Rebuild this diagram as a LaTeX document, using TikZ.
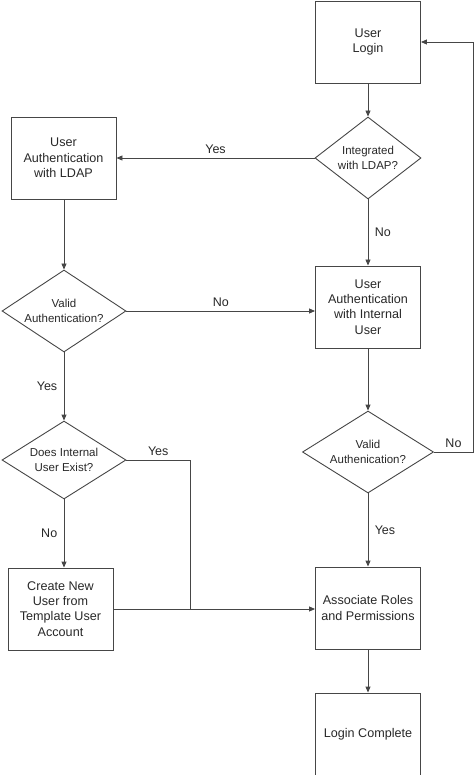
\documentclass[tikz,border=0pt]{standalone}
\usepackage{fontspec}
\setmainfont{Liberation Sans}
\usetikzlibrary{shapes.geometric,arrows.meta}
\definecolor{linegray}{RGB}{70,70,70}
\definecolor{textgray}{RGB}{40,40,40}

\begin{document}
\begin{tikzpicture}[x=1pt,y=-1pt,
    procbox/.style={draw=linegray, line width=0.9pt, minimum width=105pt,
      minimum height=82pt, inner sep=0pt, align=center, text=textgray,
      font=\fontsize{12.6}{15.3}\selectfont},
    decision/.style={draw=linegray, line width=0.9pt, diamond, inner sep=0pt,
      minimum width=#1, minimum height=82pt},
    decision/.default=124pt,
    dtext/.style={align=center, text=textgray, font=\fontsize{11.5}{14.5}\selectfont},
    flow/.style={draw=linegray, line width=0.9pt, -{Triangle[length=6pt,width=5pt]}},
    plainline/.style={draw=linegray, line width=0.9pt},
    answer/.style={text=textgray, font=\fontsize{12.5}{15}\selectfont}]

    % Fix the page to the size of the reference
    \useasboundingbox (0,0) rectangle (474,775);

    % Process boxes
    \node[procbox] (login)    at (368,42)    {User\\Login};
    \node[procbox] (ldapauth) at (63.5,158)  {User\\Authentication\\with LDAP};
    \node[procbox] (intauth)  at (368,307)   {User\\Authentication\\with Internal\\User};
    \node[procbox] (create)   at (60.5,609)  {Create New\\User from\\Template User\\Account};
    \node[procbox] (assoc)    at (368,608)   {Associate Roles\\and Permissions};
    \node[procbox] (done)     at (368,734)   {Login Complete};

    % Decisions (text put in the middle as a label)
    \node[decision=106pt, label={[dtext]center:Integrated\\with LDAP?}] (ldapq) at (368,158) {};
    \node[decision, label={[dtext]center:Valid\\Authentication?}] (validldap) at (64,311) {};
    \node[decision, minimum height=78pt, label={[dtext]center:Does Internal\\User Exist?}] (existq) at (64,460) {};
    \node[decision=131pt, label={[dtext]center:Valid\\Authenication?}] (validint) at (368,452) {};

    % Corner points of the elbow lines
    \coordinate (merge) at (190,609);
    \coordinate (loopback) at (473,452);

    % Connectors
    \draw[flow] (login) -- (ldapq);
    \draw[flow] (ldapq.west) -- node[answer, above=1pt] {Yes} (ldapauth.east);
    \draw[flow] (ldapq.south) -- node[answer, right=3pt] {No} (intauth.north);
    \draw[flow] (ldapauth.south -| validldap.north) -- (validldap.north);
    \draw[flow] (validldap.east) -- node[answer, above=1pt] {No} (validldap.east -| intauth.west);
    \draw[flow] (validldap.south) -- node[answer, left=3pt] {Yes} (existq.north);
    \draw[plainline] (existq.east) -| node[answer, above=1pt, pos=0.25] {Yes} (merge);
    \draw[flow] (existq.south) -- node[answer, left=3pt] {No} (existq.south |- create.north);
    \draw[flow] (create.east |- merge) -- (merge -| assoc.west);
    \draw[flow] (intauth) -- (validint);
    \draw[flow] (validint.south) -- node[answer, right=3pt] {Yes} (assoc.north);
    \draw[flow] (validint.east) -- node[answer, above=1pt] {No} (loopback) |- (login.east);
    \draw[flow] (assoc) -- (done);
  \end{tikzpicture}
\end{document}
